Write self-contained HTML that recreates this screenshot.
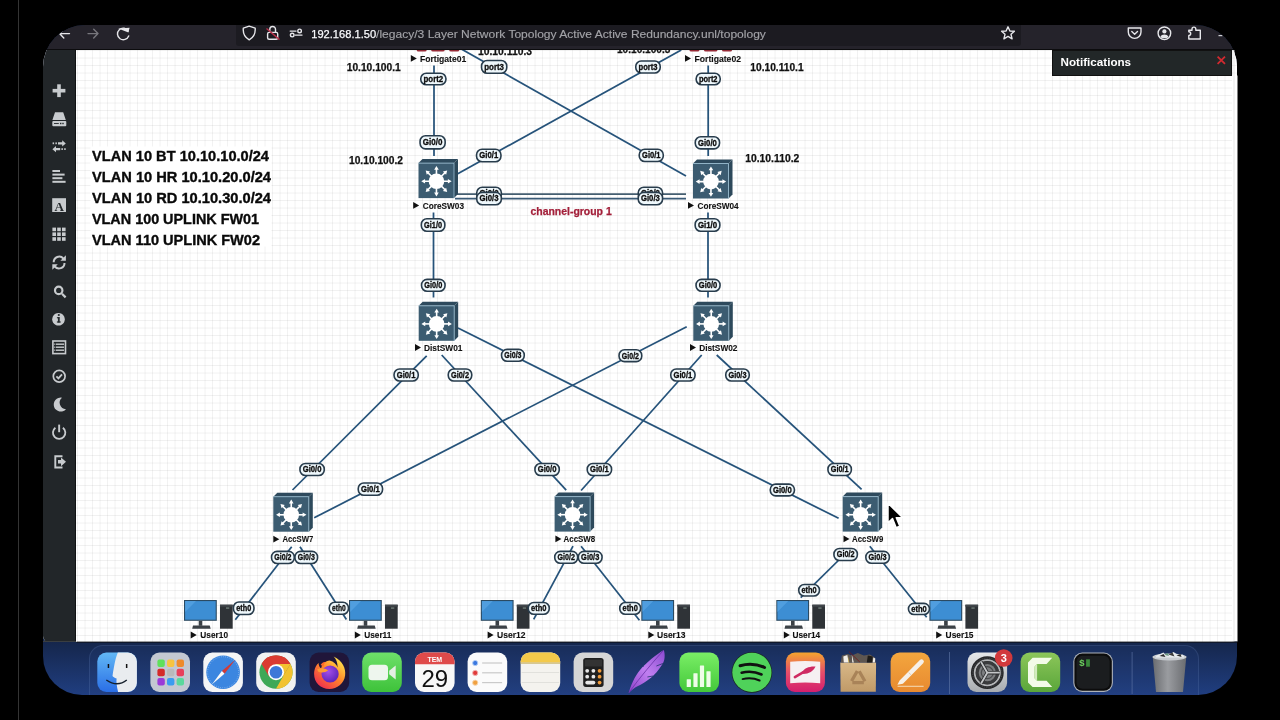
<!DOCTYPE html>
<html><head><meta charset="utf-8"><style>
*{margin:0;padding:0;box-sizing:border-box}
html,body{width:1280px;height:720px;overflow:hidden;background:#000;font-family:"Liberation Sans",sans-serif}
.abs{position:absolute}
#vline{left:18px;top:0;width:1px;height:720px;background:#343434}
#screen{left:43px;top:25px;width:1194px;height:670px;border-radius:42px 42px 39px 39px;overflow:hidden;background:linear-gradient(180deg,#15264b 0%,#15264b 92%,#203e80 100%)}
#toolbar{left:0;top:0;width:1194px;height:25px;background:#25232b;border-bottom:1px solid #0c0c0e}
#url{left:193px;top:0;width:785px;height:20.5px;background:#1c1b21;border-radius:0 0 3px 3px}
#win{left:0;top:25px;width:1194px;height:592px;border-radius:0 0 6px 6px;overflow:hidden;background:#fff}
#sidebar{left:0;top:0;width:33px;height:592px;background:#222629;border-right:1.5px solid #0f1112}
#canvas{left:33px;top:0;width:1161px;height:592px;background-color:#fff;
 background-image:linear-gradient(90deg, rgba(0,0,0,0.055) 1px, transparent 1px),linear-gradient(0deg, rgba(0,0,0,0.055) 1px, transparent 1px);
 background-size:7.5px 7.5px;background-position:1.10px 1.00px}
#vlan{left:48px;top:94px;width:182px;height:112px;background:#fff}
#notif{left:1009px;top:0;width:180px;height:26px;background:#222728;border:1px solid #111}
#dock{left:46px;top:619.5px;width:1110px;height:70px;border-radius:14px;background:rgba(40,70,130,0.22);border:1px solid rgba(120,150,200,0.18)}
.ic{position:absolute;top:627.5px;width:40px;height:40px;border-radius:9px;overflow:hidden}
</style></head><body>
<div id="vline" class="abs"></div>
<div id="screen" class="abs">
 <div id="toolbar" class="abs"><div id="url" class="abs"></div></div>
 <div id="win" class="abs">
  <div id="sidebar" class="abs"></div>
  <div id="canvas" class="abs"></div>
  <div id="notif" class="abs"></div>
 </div>
 <div id="dock" class="abs"></div>
</div>
<svg class="abs" style="left:0;top:0;will-change:transform" width="1280" height="720" viewBox="0 0 1280 720" font-family="Liberation Sans, sans-serif">
 <defs><clipPath id="scr"><rect x="43" y="25" width="1194" height="670" rx="42"/></clipPath><clipPath id="cv"><rect x="76.5" y="50" width="1161" height="592"/></clipPath></defs>
 
<g fill="#c8cbce" stroke="none">
 <rect x="52.6" y="88.9" width="12.8" height="3.6"/>
 <rect x="57.2" y="84.3" width="3.6" height="12.8"/>
 <path d="M55 112.3 L63.2 112.3 L65.8 120 L52.4 120Z"/>
 <rect x="52.3" y="121" width="14" height="5.2" rx="1"/>
 <rect x="60" y="122.8" width="1.4" height="1.4" fill="#23282b"/><rect x="62.3" y="122.8" width="1.4" height="1.4" fill="#23282b"/><rect x="54" y="123.1" width="4.8" height="0.9" fill="#23282b"/>
 <path d="M58 142.3 h4.2 v-2 l3.6 3.1 l-3.6 3.1 v-2 h-4.2z"/><rect x="52.6" y="142.4" width="1.5" height="1.8"/><rect x="55.4" y="142.4" width="1.5" height="1.8"/>
 <path d="M60.2 148.1 h-4.2 v-2 l-3.6 3.1 l3.6 3.1 v-2 h4.2z"/><rect x="64.2" y="148.2" width="1.5" height="1.8"/><rect x="61.4" y="148.2" width="1.5" height="1.8"/>
 <rect x="52.4" y="170" width="7.6" height="2"/><rect x="52.4" y="173.6" width="12.2" height="2"/><rect x="52.4" y="177.2" width="10" height="2"/><rect x="52.4" y="180.8" width="13.2" height="2"/>
 <rect x="52.2" y="198.2" width="13.8" height="13.8"/>
 <g fill="#c8cbce">
 <rect x="52.4" y="227.6" width="3.6" height="3.6"/><rect x="57.2" y="227.6" width="3.6" height="3.6"/><rect x="62" y="227.6" width="3.6" height="3.6"/>
 <rect x="52.4" y="232.4" width="3.6" height="3.6"/><rect x="57.2" y="232.4" width="3.6" height="3.6"/><rect x="62" y="232.4" width="3.6" height="3.6"/>
 <rect x="52.4" y="237.2" width="3.6" height="3.6"/><rect x="57.2" y="237.2" width="3.6" height="3.6"/><rect x="62" y="237.2" width="3.6" height="3.6"/>
 </g>
 <path d="M58.5 313 a6.3 6.3 0 1 0 0.01 0z"/>
 <path d="M58.7 290.4 m-4.8 0 a4.8 4.8 0 1 0 9.6 0 a4.8 4.8 0 1 0 -9.6 0z"/>
 <path d="M62 397.7 A7 7 0 1 0 66 409.2 A6.5 6.5 0 0 1 62 397.7Z"/>
</g>
<text x="59.1" y="210.6" text-anchor="middle" font-family="Liberation Serif" font-weight="700" font-size="13" fill="#23282b">A</text>
<g fill="none" stroke="#c8cbce">
 <path d="M53.7 262.3 A5.5 5.5 0 0 1 63.4 258.6" stroke-width="2"/><path d="M64.5 262.9 A5.5 5.5 0 0 1 54.8 266.5" stroke-width="2"/>
 <path d="M65.9 255.2 L65.9 260.8 L60.4 260.8Z" fill="#c8cbce" stroke="none"/><path d="M52.3 269.8 L52.3 264.3 L57.8 264.3Z" fill="#c8cbce" stroke="none"/>
 <line x1="62" y1="293.8" x2="65.6" y2="297.4" stroke-width="2.2"/>
 <rect x="52.9" y="341" width="12.6" height="12.6" stroke-width="1.6"/>
 <circle cx="59.2" cy="376.2" r="5.9" stroke-width="1.7"/>
 <path d="M55.6 435.5 A5.5 5.5 0 1 0 62.4 427.1" stroke-width="0" />
 <path d="M55.4 427.8 A6.2 6.2 0 1 0 62.9 427.8" stroke-width="1.8"/>
 <path d="M62.5 456.2 h-7.2 v11.3 h7.2" stroke-width="1.9"/>
</g>
<g fill="#c8cbce">
 <rect x="58.2" y="424.6" width="1.9" height="7.6"/>
 <path d="M58 460 h3 v-2.6 l5 4.4 l-5 4.4 v-2.6 h-3z"/>
 <rect x="56" y="343.5" width="8" height="1.4"/><rect x="56" y="346.5" width="8" height="1.4"/><rect x="56" y="349.5" width="8" height="1.4"/>
 <rect x="54.3" y="343.5" width="1" height="1.4"/><rect x="54.3" y="346.5" width="1" height="1.4"/><rect x="54.3" y="349.5" width="1" height="1.4"/>
</g>
<g fill="#23282b"><rect x="57.9" y="317.2" width="1.8" height="5.3"/><circle cx="58.8" cy="315" r="1.1"/><rect x="56.9" y="321.4" width="3.8" height="1.2"/><rect x="56.9" y="317.2" width="2.6" height="1.1"/>
<circle cx="58.7" cy="290.4" r="2.6" fill="#23282b"/></g>
<path d="M56.4 376.4 L58.4 378.4 L62 374.4" fill="none" stroke="#c8cbce" stroke-width="1.8"/>

 <g clip-path="url(#scr)">
<g fill="none" stroke="#e6e6ea" stroke-width="1.4" stroke-linecap="round" stroke-linejoin="round">
 <path d="M69.5 33.6 H59.5 M63.8 29.3 L59.5 33.6 L63.8 37.9"/>
 <path d="M88 33.6 H98 M93.7 29.3 L98 33.6 L93.7 37.9" stroke="#77767c"/>
 <path d="M128.3 31 A5.8 5.8 0 1 0 128.7 36"/>
 <path d="M243.3 28.2 L249.2 26.2 L255.2 28.2 C255.6 33.8 253.3 37.5 249.2 39.8 C245.1 37.5 242.8 33.8 243.3 28.2Z"/>
 <path d="M269.8 32.3 V29.3 A2.85 2.85 0 0 1 275.5 29.3 V32.3"/>
 <rect x="267.6" y="32.4" width="10.1" height="6.8" rx="1.5"/>
 <path d="M290.2 31.1 H296 M295.2 35.1 H302"/>
 <circle cx="299.6" cy="30.9" r="1.8"/><circle cx="292.2" cy="35.1" r="1.8"/>
 <path d="M1008 26.8 L1009.9 31 L1014.4 31.3 L1011 34.3 L1012.1 38.8 L1008 36.4 L1003.9 38.8 L1005 34.3 L1001.6 31.3 L1006.1 31Z"/>
 <path d="M1128.3 28 H1141 V32 A6.35 6.35 0 0 1 1128.3 32Z"/>
 <path d="M1131.8 31.5 L1134.65 34.2 L1137.5 31.5"/>
 <circle cx="1164.4" cy="33.3" r="6.3"/>
 <path d="M1188.8 30.3 H1192 V29 A1.9 1.9 0 0 1 1195.8 29 V30.3 H1200.3 V39 H1188.8 V35.5 A1.9 1.9 0 0 0 1188.8 31.7Z"/>
</g>
<path d="M118.2 28.6 L129.6 27.7 L128.4 32.6Z" fill="#e6e6ea"/>
<path d="M266.5 28.5 L279.5 39.6" stroke="#b8304a" stroke-width="1.4"/>
<circle cx="1164.4" cy="31.4" r="2.1" fill="#e6e6ea"/><path d="M1160.4 36.6 A4.2 3 0 0 1 1168.4 36.6 L1167 38.2 H1161.8Z" fill="#e6e6ea"/>
<rect x="1218.5" y="35" width="4" height="1.2" fill="#cfcfd4"/>
</g>
 <g transform="translate(97.30,652.50)"><defs><linearGradient id="fdb" x1="0" y1="0" x2="0" y2="1"><stop offset="0" stop-color="#62b8f5"/><stop offset="1" stop-color="#2a6ee6"/></linearGradient></defs>
<rect width="39.6" height="39.4" rx="9" fill="url(#fdb)"/>
<path d="M20.5 0 H30.6 A9 9 0 0 1 39.6 9 V30.4 A9 9 0 0 1 30.6 39.4 H20.8 C19.5 34 18.8 29 19.3 26 C17 25.5 16 24.5 15.2 23.6 C16.5 15 18 6 20.5 0Z" fill="#e9ecef"/>
<rect x="10.4" y="11.5" width="1.5" height="4" fill="#111"/><rect x="28.6" y="11.5" width="1.5" height="4" fill="#111"/>
<path d="M9 27.5 Q20 35 29.5 27.5" stroke="#15202b" stroke-width="1.3" fill="none"/></g><g transform="translate(150.40,652.50)"><rect width="39.6" height="39.4" rx="9" fill="#c3c8d2"/><rect x="7.0" y="7.0" width="7.4" height="7.4" rx="2" fill="#5fe05a"/><rect x="16.6" y="7.0" width="7.4" height="7.4" rx="2" fill="#f6c440"/><rect x="26.2" y="7.0" width="7.4" height="7.4" rx="2" fill="#ee8a2c"/><rect x="7.0" y="16.3" width="7.4" height="7.4" rx="2" fill="#d42a2a"/><rect x="16.6" y="16.3" width="7.4" height="7.4" rx="2" fill="#b9b9bb"/><rect x="26.2" y="16.3" width="7.4" height="7.4" rx="2" fill="#e8405c"/><rect x="7.0" y="25.6" width="7.4" height="7.4" rx="2" fill="#9a3ad8"/><rect x="16.6" y="25.6" width="7.4" height="7.4" rx="2" fill="#3a9cf0"/><rect x="26.2" y="25.6" width="7.4" height="7.4" rx="2" fill="#5ad89c"/></g><g transform="translate(203.30,652.50)"><rect width="39.6" height="39.4" rx="9" fill="#f4f5f6"/>
<circle cx="19.8" cy="19.7" r="16.8" fill="#3b86e0"/><circle cx="19.8" cy="19.7" r="15.5" fill="none" stroke="#cfe3f8" stroke-width="0.7" stroke-dasharray="0.6 1.6"/>
<path d="M32 7.3 L21.2 21.2 L18.6 18.4Z" fill="#d23a36"/><path d="M8.5 32 L18.6 18.4 L21.2 21.2Z" fill="#fafafa"/></g><g transform="translate(256.20,652.50)"><rect width="39.6" height="39.4" rx="9" fill="#f1f2f2"/>
<circle cx="19.8" cy="19.7" r="16.6" fill="#3ea857"/>
<path d="M19.8 3.1 A16.6 16.6 0 0 1 34.2 11.4 L19.8 11.4 Z M5.4 11.4 A16.6 16.6 0 0 1 19.8 3.1 L19.8 11.4Z" fill="#da3b31"/>
<path d="M19.8 3.1 A16.6 16.6 0 0 1 34.2 11.4 L26.9 23.8 L19.8 11.4Z" fill="#da3b31"/>
<path d="M5.4 11.4 L12.7 23.8 L19.8 11.4 L19.8 3.1 A16.6 16.6 0 0 0 5.4 11.4Z" fill="#da3b31"/>
<path d="M34.2 11.4 A16.6 16.6 0 0 1 19.8 36.3 L26.9 23.8Z" fill="#f2c230"/>
<path d="M34.2 11.4 L19.8 11.4 L26.9 23.8Z" fill="#f2c230"/>
<circle cx="19.8" cy="19.7" r="8" fill="#fff"/><circle cx="19.8" cy="19.7" r="6.3" fill="#3c78d8"/></g><g transform="translate(309.60,652.50)"><rect width="39.6" height="39.4" rx="9" fill="#20163a"/>
<defs><linearGradient id="ffo" x1="0.85" y1="0.1" x2="0.2" y2="0.95"><stop offset="0" stop-color="#ffe04a"/><stop offset="0.45" stop-color="#ff8a2a"/><stop offset="1" stop-color="#f0304e"/></linearGradient>
<radialGradient id="ffp" cx="0.4" cy="0.35" r="0.7"><stop offset="0" stop-color="#a44ee8"/><stop offset="1" stop-color="#5a22b8"/></radialGradient></defs>
<path d="M24 4 C33 8 36.5 16 35.5 23 C34.5 31 27.5 36.5 19.8 36.5 C11 36.5 4.5 30 4.5 21.5 C4.5 16 7 12 9 10.5 C9 13 10 15 11.5 16 C12.5 11 16 8.5 20 8 C24 9 27 12 28 15 C28 10 26.5 6.5 24 4Z" fill="url(#ffo)"/>
<circle cx="20.5" cy="21.5" r="8.6" fill="url(#ffp)"/>
<path d="M7.5 17 C11 15 15.5 15.5 18.5 18 C16 20 12.5 20.5 9 19.5Z" fill="#ff9a34"/>
<path d="M11 12.5 C12.5 10 14 9.5 16 9.5 C14.5 11 14 12.5 14 14Z" fill="#ff6a2a"/></g><g transform="translate(362.20,652.50)"><defs><linearGradient id="ftg" x1="0" y1="0" x2="0" y2="1"><stop offset="0" stop-color="#6ee06a"/><stop offset="1" stop-color="#3ec23a"/></linearGradient></defs>
<rect width="39.6" height="39.4" rx="9" fill="url(#ftg)"/>
<rect x="6.3" y="12.3" width="19.5" height="15.5" rx="3.5" fill="#eef6ee"/><path d="M27 18.2 L33.5 13 V27 L27 21.8Z" fill="#e4efe4"/></g><g transform="translate(415.00,652.50)"><rect width="39.6" height="39.4" rx="9" fill="#f8f8f8"/>
<path d="M0 11.8 V9 A9 9 0 0 1 9 0 H30.6 A9 9 0 0 1 39.6 9 V11.8Z" fill="#df4a4a"/>
<text x="19.8" y="9" text-anchor="middle" font-size="7" font-weight="700" fill="#fff">TEM</text>
<text x="19.8" y="34.3" text-anchor="middle" font-size="24" fill="#111">29</text></g><g transform="translate(467.60,652.50)"><rect width="39.6" height="39.4" rx="9" fill="#fbfbfb"/>
<circle cx="7.6" cy="10.5" r="2.6" fill="#3a78e0" stroke="#b8d0f4" stroke-width="0.9"/><circle cx="7.6" cy="20.4" r="2.6" fill="#e03a3a" stroke="#f2b8b8" stroke-width="0.9"/><circle cx="7.6" cy="30.2" r="2.6" fill="#f0a040" stroke="#f6d6b0" stroke-width="0.9"/>
<rect x="14.5" y="10.2" width="20" height="0.6" fill="#9a9a9a"/><rect x="14.5" y="20.1" width="20" height="0.6" fill="#9a9a9a"/><rect x="14.5" y="30" width="20" height="0.6" fill="#9a9a9a"/></g><g transform="translate(520.60,652.50)"><rect width="39.6" height="39.4" rx="9" fill="#f4f3ee"/>
<path d="M0 10 V9 A9 9 0 0 1 9 0 H30.6 A9 9 0 0 1 39.6 9 V10Z" fill="#f3c94a"/><rect y="10" width="39.6" height="1.2" fill="#c9b46a"/>
<rect x="1" y="19.8" width="37.6" height="0.5" fill="#cfcfcb"/><rect x="1" y="29.6" width="37.6" height="0.5" fill="#cfcfcb"/></g><g transform="translate(573.60,652.50)"><rect width="39.6" height="39.4" rx="9" fill="#d6d6d6"/>
<rect x="9.6" y="5.4" width="20.4" height="29" rx="2.6" fill="#1f1f1f"/>
<rect x="11.2" y="7" width="17.2" height="7" fill="#333"/>
<circle cx="13.6" cy="18.3" r="1.9" fill="#e8e8e8"/><circle cx="19.8" cy="18.3" r="1.9" fill="#e8e8e8"/><circle cx="26" cy="18.3" r="1.9" fill="#f09a3a"/>
<circle cx="13.6" cy="24.2" r="1.9" fill="#e8e8e8"/><circle cx="19.8" cy="24.2" r="1.9" fill="#e8e8e8"/><circle cx="26" cy="24.2" r="1.9" fill="#f09a3a"/>
<rect x="11.7" y="28.2" width="10" height="3.8" rx="1.9" fill="#e8e8e8"/><circle cx="26" cy="30.1" r="1.9" fill="#f09a3a"/></g><g transform="translate(626.40,652.50)"><defs><linearGradient id="fth" x1="1" y1="0" x2="0" y2="1"><stop offset="0" stop-color="#8a4ad0"/><stop offset="0.5" stop-color="#c07ff0"/><stop offset="1" stop-color="#8a40c8"/></linearGradient></defs>
<path d="M2.35 40.5 C4 34 8 24 14 17 C20 10 30 2 37.35 -2.5 C39 2 38.5 9 35.5 12.5 C32 18 28.5 22 24.85 25 C20 29 15 32 11.1 33.75 C8 35.5 5 37.5 2.35 40.5Z" fill="url(#fth)"/>
<path d="M37 -2 C28 8 14 24 2.35 40.5" stroke="#6a32a8" stroke-width="0.8" fill="none"/>
<path d="M36.5 11 L30 13.5 M26.5 23.5 L21 24.5 M14.5 10.5 L17 14.5" stroke="#1d3468" stroke-width="0.8"/></g><g transform="translate(679.40,652.50)"><defs><linearGradient id="nug" x1="0" y1="0" x2="0" y2="1"><stop offset="0" stop-color="#7aee66"/><stop offset="1" stop-color="#44c83a"/></linearGradient></defs>
<rect width="39.6" height="39.4" rx="9" fill="url(#nug)"/>
<rect x="7.3" y="26.7" width="4.2" height="7.8" rx="0.5" fill="#eefde8"/><rect x="14" y="20.8" width="4.2" height="13.7" rx="0.5" fill="#eefde8"/><rect x="20.5" y="13" width="4.2" height="21.5" rx="0.5" fill="#eefde8"/><rect x="27" y="18.7" width="4.2" height="15.8" rx="0.5" fill="#eefde8"/></g><g transform="translate(731.60,652.50)"><circle cx="20.3" cy="19.9" r="20.3" fill="#1a2a20"/><circle cx="20.3" cy="19.9" r="19.6" fill="#4fd25a"/>
<path d="M8.5 13.2 Q21 9.5 33 15" stroke="#111" stroke-width="3" stroke-linecap="round" fill="none"/>
<path d="M10 20.2 Q20.5 17.5 30 22" stroke="#111" stroke-width="2.5" stroke-linecap="round" fill="none"/>
<path d="M11 26.6 Q20 24.5 28 28" stroke="#111" stroke-width="2" stroke-linecap="round" fill="none"/></g><g transform="translate(785.90,652.50)"><defs><linearGradient id="klg" x1="0" y1="0" x2="0" y2="1"><stop offset="0" stop-color="#f4a42e"/><stop offset="0.5" stop-color="#e64e6a"/><stop offset="1" stop-color="#d41f6e"/></linearGradient></defs>
<rect width="39" height="39.4" rx="9" fill="url(#klg)"/>
<path d="M4.3 9.2 Q19.3 7.8 34.3 9.2 L34.3 30.8 Q19.3 29.3 4.3 30.8Z" fill="#f6f0f2"/>
<path d="M9 24.6 L17.5 19.6" stroke="#cf2a62" stroke-width="2.6" stroke-linecap="round"/><path d="M16 20 C18 15.5 24 13.5 29.6 14 C28 18.5 22.5 21.5 17.5 21.5Z" fill="#cf2a62"/></g><g transform="translate(839.80,652.50)"><defs><linearGradient id="bag" x1="0" y1="0" x2="0" y2="1"><stop offset="0" stop-color="#d8b888"/><stop offset="1" stop-color="#c09a68"/></linearGradient></defs>
<path d="M0.5 10 L36.3 10 L36 39.2 L0.8 39.2Z" fill="url(#bag)"/>
<path d="M2 3 L8 1.5 L12 3 L18 0.5 L24 3 L30 2 L35 5 L36 10 L1 10Z" fill="#5e5650"/>
<path d="M3.5 4 L7.5 2.5 L9 10 L4 10Z" fill="#f2eee8"/><path d="M8 3 L9.5 10 L8.8 10Z" fill="#e8c43a"/><path d="M12 2 L14 10 L12.5 10Z" fill="#f4f0ea"/><path d="M28 3 L33 4 L32 10 L27 10Z" fill="#1e1c1a"/><path d="M33.5 5 L35.5 6 L35 10 L33 10Z" fill="#f2eee8"/>
<path d="M9 -1 L20 9.5" stroke="#7a1a1a" stroke-width="0.8"/>
<path d="M18.4 17 L26 30.2 L10.8 30.2Z" fill="none" stroke="#a98358" stroke-width="3.3" stroke-linejoin="round" stroke-dasharray="11.5 3.7" stroke-dashoffset="-2"/></g><g transform="translate(890.60,652.50)"><defs><linearGradient id="pgg" x1="0" y1="0" x2="0" y2="1"><stop offset="0" stop-color="#f3a63e"/><stop offset="1" stop-color="#e88a30"/></linearGradient></defs>
<rect width="39.6" height="39.4" rx="9" fill="url(#pgg)"/>
<path d="M6.8 32.2 L9 28 L29.3 7.6 A2 2 0 0 1 32.6 10.8 L12.3 31.3Z" fill="#f6f0e8"/><path d="M18 20 L20.5 22.4" stroke="#c8b8a0" stroke-width="0.6"/><rect x="7" y="33.3" width="26" height="0.9" fill="#f6e6c8"/></g><g transform="translate(967.50,652.50)"><defs><linearGradient id="ssg" x1="0" y1="0" x2="0" y2="1"><stop offset="0" stop-color="#e6e8ea"/><stop offset="1" stop-color="#a8acb0"/></linearGradient></defs>
<rect width="39.6" height="39.4" rx="9" fill="url(#ssg)"/>
<circle cx="19.8" cy="20.2" r="16.4" fill="#262729"/>
<circle cx="19.8" cy="20.2" r="14.6" fill="none" stroke="#55575a" stroke-width="0.9" stroke-dasharray="0.8 1"/>
<circle cx="19.8" cy="20.2" r="12.6" fill="none" stroke="#b4b6b8" stroke-width="1.8"/>
<circle cx="19.8" cy="20.2" r="11.5" fill="#3a3b3d"/>
<circle cx="19.8" cy="20.2" r="8.6" fill="#7c7e80"/>
<circle cx="19.8" cy="20.2" r="6" fill="none" stroke="#4a4b4d" stroke-width="1.2"/>
<path d="M19.8 20.2 L32.3 20.2 M19.8 20.2 L13.55 31 M19.8 20.2 L13.55 9.4" stroke="#2a2b2d" stroke-width="3.4"/>
<path d="M19.8 20.2 L32.3 20.2 M19.8 20.2 L13.55 31 M19.8 20.2 L13.55 9.4" stroke="#c4c6c8" stroke-width="1.8"/></g><circle cx="1003.7" cy="658" r="8.8" fill="#d2393c"/><text x="1003.7" y="662" text-anchor="middle" font-size="11" font-weight="700" fill="#fff">3</text><g transform="translate(1020.60,652.50)"><defs><linearGradient id="ctg" x1="0" y1="0" x2="0" y2="1"><stop offset="0" stop-color="#8cc65a"/><stop offset="1" stop-color="#5aa63a"/></linearGradient></defs>
<rect width="39.6" height="39.4" rx="9" fill="url(#ctg)"/>
<path d="M12 5.3 H31.6 L26 11.5 H16.5 L14 14 V25.8 L16.5 28.3 H26 L31.6 34.5 H12 L7.4 29.9 V9.9Z" fill="#f3fbe8"/><path d="M14 14 V25.8 L16.5 28.3 V11.5Z" fill="#d2ecbc"/></g><g transform="translate(1073.30,652.50)"><rect width="39.6" height="39.4" rx="9" fill="#aeb2b8"/><rect x="1.1" y="1.1" width="37.4" height="37.2" rx="8" fill="#0c0c0c"/><rect x="3.2" y="3.2" width="33.2" height="33" rx="6" fill="#1b1d1f"/>
<text x="5.8" y="13.8" font-size="9.5" font-weight="700" font-family="Liberation Mono" fill="#6ccf5e">$</text><rect x="12.8" y="6.8" width="3.8" height="7.4" fill="#3a8a3a"/></g><g transform="translate(1151.50,652.50)"><defs><linearGradient id="trg" x1="0" y1="0" x2="1" y2="0"><stop offset="0" stop-color="#6a6c70"/><stop offset="0.45" stop-color="#9a9ca0"/><stop offset="1" stop-color="#6a6c70"/></linearGradient></defs>
<path d="M1.2 4 L34.8 4 L31.5 39.4 L4.5 39.4Z" fill="url(#trg)"/><ellipse cx="18" cy="4.5" rx="17" ry="3.5" fill="#c8ccd0"/>
<path d="M5 3 L12 0 L15 4 L22 -0.5 L28 3.5 L31 2 L33 5 L4 5Z" fill="#e8ecef"/><path d="M8 3.5 L12 1.5 L14 4.5Z" fill="#2a2a2a"/><path d="M17 2 L21 0 L23 4Z" fill="#3a3a3a"/><path d="M25 3 L29 1.5 L30 4.5Z" fill="#2a2a2a"/><path d="M13 2 L16 0.5 L17.5 3.5Z" fill="#6a9a80"/></g><rect x="949" y="652" width="1" height="42" fill="#6078a8" opacity="0.6"/><rect x="1131.6" y="652" width="1" height="42" fill="#6078a8" opacity="0.6"/>
 <rect x="90.5" y="146.5" width="181" height="100" fill="#fff"/>
 <rect x="1232" y="75.5" width="5.5" height="566" fill="#fff"/><rect x="1233.6" y="50" width="0.8" height="592" fill="#e2e2e2"/>
 <rect x="43" y="641" width="33" height="1" fill="#3a3e41"/><rect x="76.5" y="641.6" width="1161" height="1" fill="#101216"/>
 <g clip-path="url(#cv)"><line x1="434.00" y1="65.50" x2="434.00" y2="156.00" stroke="#26537a" stroke-width="1.75"/><line x1="708.20" y1="65.50" x2="708.20" y2="156.00" stroke="#26537a" stroke-width="1.75"/><line x1="456.00" y1="46.00" x2="686.00" y2="176.00" stroke="#26537a" stroke-width="1.75"/><line x1="681.25" y1="50.00" x2="457.75" y2="173.75" stroke="#26537a" stroke-width="1.75"/><line x1="455.00" y1="194.10" x2="686.00" y2="194.10" stroke="#445e70" stroke-width="1.7"/><line x1="455.00" y1="198.70" x2="686.00" y2="198.70" stroke="#3a5a76" stroke-width="1.7"/><line x1="433.50" y1="212.50" x2="433.50" y2="297.50" stroke="#26537a" stroke-width="1.75"/><line x1="708.00" y1="212.50" x2="708.00" y2="297.50" stroke="#26537a" stroke-width="1.75"/><line x1="458.00" y1="328.00" x2="838.60" y2="518.30" stroke="#26537a" stroke-width="1.75"/><line x1="686.70" y1="326.70" x2="314.20" y2="517.80" stroke="#26537a" stroke-width="1.75"/><line x1="426.70" y1="355.80" x2="292.50" y2="490.00" stroke="#26537a" stroke-width="1.75"/><line x1="441.70" y1="355.00" x2="566.20" y2="490.20" stroke="#26537a" stroke-width="1.75"/><line x1="701.70" y1="355.00" x2="581.10" y2="490.50" stroke="#26537a" stroke-width="1.75"/><line x1="716.70" y1="355.00" x2="861.60" y2="489.30" stroke="#26537a" stroke-width="1.75"/><line x1="291.70" y1="546.70" x2="235.30" y2="619.80" stroke="#26537a" stroke-width="1.75"/><line x1="300.00" y1="546.70" x2="346.40" y2="619.50" stroke="#26537a" stroke-width="1.75"/><line x1="573.00" y1="546.20" x2="533.70" y2="619.30" stroke="#26537a" stroke-width="1.75"/><line x1="581.10" y1="546.20" x2="639.40" y2="620.30" stroke="#26537a" stroke-width="1.75"/><line x1="850.00" y1="549.00" x2="800.70" y2="597.70" stroke="#26537a" stroke-width="1.75"/><line x1="869.80" y1="546.20" x2="926.70" y2="617.30" stroke="#26537a" stroke-width="1.75"/><rect x="416.6" y="40" width="10.1" height="11.6" rx="1.8" fill="#962a36"/><rect x="431.1" y="40" width="13.6" height="11.6" rx="1.8" fill="#962a36"/><rect x="449.2" y="40" width="10.1" height="11.6" rx="1.8" fill="#962a36"/><rect x="689.4" y="40" width="10.1" height="11.6" rx="1.8" fill="#962a36"/><rect x="703.9" y="40" width="13.6" height="11.6" rx="1.8" fill="#962a36"/><rect x="722.0" y="40" width="10.1" height="11.6" rx="1.8" fill="#962a36"/><path d="M418.50 163.10 L422.50 159.10 L458.00 159.10 L454.00 163.10Z" fill="#2e4a5d"/><path d="M454.00 163.10 L458.00 159.10 L458.00 194.10 L454.00 198.10Z" fill="#2d495b"/><rect x="418.50" y="163.10" width="35.50" height="35.00" fill="#3c5c71"/><path d="M418.50 163.10 L454.00 163.10 L454.00 198.10" fill="none" stroke="#9cc0d4" stroke-width="0.8"/><circle cx="436.45" cy="181.20" r="7.8" fill="#fff"/><line x1="443.45" y1="181.20" x2="448.95" y2="181.20" stroke="#fff" stroke-width="1.6"/><path d="M451.65 181.20 L447.85 183.50 L447.85 178.90Z" fill="#fff"/><line x1="441.40" y1="186.15" x2="445.29" y2="190.04" stroke="#fff" stroke-width="1.6"/><path d="M447.20 191.95 L442.88 190.89 L446.14 187.63Z" fill="#fff"/><line x1="436.45" y1="188.20" x2="436.45" y2="193.70" stroke="#fff" stroke-width="1.6"/><path d="M436.45 196.40 L434.15 192.60 L438.75 192.60Z" fill="#fff"/><line x1="431.50" y1="186.15" x2="427.61" y2="190.04" stroke="#fff" stroke-width="1.6"/><path d="M425.70 191.95 L426.76 187.63 L430.02 190.89Z" fill="#fff"/><line x1="429.45" y1="181.20" x2="423.95" y2="181.20" stroke="#fff" stroke-width="1.6"/><path d="M421.25 181.20 L425.05 178.90 L425.05 183.50Z" fill="#fff"/><line x1="431.50" y1="176.25" x2="427.61" y2="172.36" stroke="#fff" stroke-width="1.6"/><path d="M425.70 170.45 L430.02 171.51 L426.76 174.77Z" fill="#fff"/><line x1="436.45" y1="174.20" x2="436.45" y2="168.70" stroke="#fff" stroke-width="1.6"/><path d="M436.45 166.00 L438.75 169.80 L434.15 169.80Z" fill="#fff"/><line x1="441.40" y1="176.25" x2="445.29" y2="172.36" stroke="#fff" stroke-width="1.6"/><path d="M447.20 170.45 L446.14 174.77 L442.88 171.51Z" fill="#fff"/><path d="M693.00 163.50 L697.00 159.50 L732.50 159.50 L728.50 163.50Z" fill="#2e4a5d"/><path d="M728.50 163.50 L732.50 159.50 L732.50 194.50 L728.50 198.50Z" fill="#2d495b"/><rect x="693.00" y="163.50" width="35.50" height="35.00" fill="#3c5c71"/><path d="M693.00 163.50 L728.50 163.50 L728.50 198.50" fill="none" stroke="#9cc0d4" stroke-width="0.8"/><circle cx="710.95" cy="181.60" r="7.8" fill="#fff"/><line x1="717.95" y1="181.60" x2="723.45" y2="181.60" stroke="#fff" stroke-width="1.6"/><path d="M726.15 181.60 L722.35 183.90 L722.35 179.30Z" fill="#fff"/><line x1="715.90" y1="186.55" x2="719.79" y2="190.44" stroke="#fff" stroke-width="1.6"/><path d="M721.70 192.35 L717.38 191.29 L720.64 188.03Z" fill="#fff"/><line x1="710.95" y1="188.60" x2="710.95" y2="194.10" stroke="#fff" stroke-width="1.6"/><path d="M710.95 196.80 L708.65 193.00 L713.25 193.00Z" fill="#fff"/><line x1="706.00" y1="186.55" x2="702.11" y2="190.44" stroke="#fff" stroke-width="1.6"/><path d="M700.20 192.35 L701.26 188.03 L704.52 191.29Z" fill="#fff"/><line x1="703.95" y1="181.60" x2="698.45" y2="181.60" stroke="#fff" stroke-width="1.6"/><path d="M695.75 181.60 L699.55 179.30 L699.55 183.90Z" fill="#fff"/><line x1="706.00" y1="176.65" x2="702.11" y2="172.76" stroke="#fff" stroke-width="1.6"/><path d="M700.20 170.85 L704.52 171.91 L701.26 175.17Z" fill="#fff"/><line x1="710.95" y1="174.60" x2="710.95" y2="169.10" stroke="#fff" stroke-width="1.6"/><path d="M710.95 166.40 L713.25 170.20 L708.65 170.20Z" fill="#fff"/><line x1="715.90" y1="176.65" x2="719.79" y2="172.76" stroke="#fff" stroke-width="1.6"/><path d="M721.70 170.85 L720.64 175.17 L717.38 171.91Z" fill="#fff"/><path d="M418.70 305.80 L422.70 301.80 L458.20 301.80 L454.20 305.80Z" fill="#2e4a5d"/><path d="M454.20 305.80 L458.20 301.80 L458.20 336.80 L454.20 340.80Z" fill="#2d495b"/><rect x="418.70" y="305.80" width="35.50" height="35.00" fill="#3c5c71"/><path d="M418.70 305.80 L454.20 305.80 L454.20 340.80" fill="none" stroke="#9cc0d4" stroke-width="0.8"/><circle cx="436.65" cy="323.90" r="7.8" fill="#fff"/><line x1="443.65" y1="323.90" x2="449.15" y2="323.90" stroke="#fff" stroke-width="1.6"/><path d="M451.85 323.90 L448.05 326.20 L448.05 321.60Z" fill="#fff"/><line x1="441.60" y1="328.85" x2="445.49" y2="332.74" stroke="#fff" stroke-width="1.6"/><path d="M447.40 334.65 L443.08 333.59 L446.34 330.33Z" fill="#fff"/><line x1="436.65" y1="330.90" x2="436.65" y2="336.40" stroke="#fff" stroke-width="1.6"/><path d="M436.65 339.10 L434.35 335.30 L438.95 335.30Z" fill="#fff"/><line x1="431.70" y1="328.85" x2="427.81" y2="332.74" stroke="#fff" stroke-width="1.6"/><path d="M425.90 334.65 L426.96 330.33 L430.22 333.59Z" fill="#fff"/><line x1="429.65" y1="323.90" x2="424.15" y2="323.90" stroke="#fff" stroke-width="1.6"/><path d="M421.45 323.90 L425.25 321.60 L425.25 326.20Z" fill="#fff"/><line x1="431.70" y1="318.95" x2="427.81" y2="315.06" stroke="#fff" stroke-width="1.6"/><path d="M425.90 313.15 L430.22 314.21 L426.96 317.47Z" fill="#fff"/><line x1="436.65" y1="316.90" x2="436.65" y2="311.40" stroke="#fff" stroke-width="1.6"/><path d="M436.65 308.70 L438.95 312.50 L434.35 312.50Z" fill="#fff"/><line x1="441.60" y1="318.95" x2="445.49" y2="315.06" stroke="#fff" stroke-width="1.6"/><path d="M447.40 313.15 L446.34 317.47 L443.08 314.21Z" fill="#fff"/><path d="M693.30 305.80 L697.30 301.80 L732.80 301.80 L728.80 305.80Z" fill="#2e4a5d"/><path d="M728.80 305.80 L732.80 301.80 L732.80 336.80 L728.80 340.80Z" fill="#2d495b"/><rect x="693.30" y="305.80" width="35.50" height="35.00" fill="#3c5c71"/><path d="M693.30 305.80 L728.80 305.80 L728.80 340.80" fill="none" stroke="#9cc0d4" stroke-width="0.8"/><circle cx="711.25" cy="323.90" r="7.8" fill="#fff"/><line x1="718.25" y1="323.90" x2="723.75" y2="323.90" stroke="#fff" stroke-width="1.6"/><path d="M726.45 323.90 L722.65 326.20 L722.65 321.60Z" fill="#fff"/><line x1="716.20" y1="328.85" x2="720.09" y2="332.74" stroke="#fff" stroke-width="1.6"/><path d="M722.00 334.65 L717.68 333.59 L720.94 330.33Z" fill="#fff"/><line x1="711.25" y1="330.90" x2="711.25" y2="336.40" stroke="#fff" stroke-width="1.6"/><path d="M711.25 339.10 L708.95 335.30 L713.55 335.30Z" fill="#fff"/><line x1="706.30" y1="328.85" x2="702.41" y2="332.74" stroke="#fff" stroke-width="1.6"/><path d="M700.50 334.65 L701.56 330.33 L704.82 333.59Z" fill="#fff"/><line x1="704.25" y1="323.90" x2="698.75" y2="323.90" stroke="#fff" stroke-width="1.6"/><path d="M696.05 323.90 L699.85 321.60 L699.85 326.20Z" fill="#fff"/><line x1="706.30" y1="318.95" x2="702.41" y2="315.06" stroke="#fff" stroke-width="1.6"/><path d="M700.50 313.15 L704.82 314.21 L701.56 317.47Z" fill="#fff"/><line x1="711.25" y1="316.90" x2="711.25" y2="311.40" stroke="#fff" stroke-width="1.6"/><path d="M711.25 308.70 L713.55 312.50 L708.95 312.50Z" fill="#fff"/><line x1="716.20" y1="318.95" x2="720.09" y2="315.06" stroke="#fff" stroke-width="1.6"/><path d="M722.00 313.15 L720.94 317.47 L717.68 314.21Z" fill="#fff"/><path d="M273.30 496.70 L277.30 492.70 L312.80 492.70 L308.80 496.70Z" fill="#2e4a5d"/><path d="M308.80 496.70 L312.80 492.70 L312.80 527.70 L308.80 531.70Z" fill="#2d495b"/><rect x="273.30" y="496.70" width="35.50" height="35.00" fill="#3c5c71"/><path d="M273.30 496.70 L308.80 496.70 L308.80 531.70" fill="none" stroke="#9cc0d4" stroke-width="0.8"/><circle cx="291.25" cy="514.80" r="7.8" fill="#fff"/><line x1="298.25" y1="514.80" x2="303.75" y2="514.80" stroke="#fff" stroke-width="1.6"/><path d="M306.45 514.80 L302.65 517.10 L302.65 512.50Z" fill="#fff"/><line x1="296.20" y1="519.75" x2="300.09" y2="523.64" stroke="#fff" stroke-width="1.6"/><path d="M302.00 525.55 L297.68 524.49 L300.94 521.23Z" fill="#fff"/><line x1="291.25" y1="521.80" x2="291.25" y2="527.30" stroke="#fff" stroke-width="1.6"/><path d="M291.25 530.00 L288.95 526.20 L293.55 526.20Z" fill="#fff"/><line x1="286.30" y1="519.75" x2="282.41" y2="523.64" stroke="#fff" stroke-width="1.6"/><path d="M280.50 525.55 L281.56 521.23 L284.82 524.49Z" fill="#fff"/><line x1="284.25" y1="514.80" x2="278.75" y2="514.80" stroke="#fff" stroke-width="1.6"/><path d="M276.05 514.80 L279.85 512.50 L279.85 517.10Z" fill="#fff"/><line x1="286.30" y1="509.85" x2="282.41" y2="505.96" stroke="#fff" stroke-width="1.6"/><path d="M280.50 504.05 L284.82 505.11 L281.56 508.37Z" fill="#fff"/><line x1="291.25" y1="507.80" x2="291.25" y2="502.30" stroke="#fff" stroke-width="1.6"/><path d="M291.25 499.60 L293.55 503.40 L288.95 503.40Z" fill="#fff"/><line x1="296.20" y1="509.85" x2="300.09" y2="505.96" stroke="#fff" stroke-width="1.6"/><path d="M302.00 504.05 L300.94 508.37 L297.68 505.11Z" fill="#fff"/><path d="M554.60 496.60 L558.60 492.60 L594.10 492.60 L590.10 496.60Z" fill="#2e4a5d"/><path d="M590.10 496.60 L594.10 492.60 L594.10 527.60 L590.10 531.60Z" fill="#2d495b"/><rect x="554.60" y="496.60" width="35.50" height="35.00" fill="#3c5c71"/><path d="M554.60 496.60 L590.10 496.60 L590.10 531.60" fill="none" stroke="#9cc0d4" stroke-width="0.8"/><circle cx="572.55" cy="514.70" r="7.8" fill="#fff"/><line x1="579.55" y1="514.70" x2="585.05" y2="514.70" stroke="#fff" stroke-width="1.6"/><path d="M587.75 514.70 L583.95 517.00 L583.95 512.40Z" fill="#fff"/><line x1="577.50" y1="519.65" x2="581.39" y2="523.54" stroke="#fff" stroke-width="1.6"/><path d="M583.30 525.45 L578.98 524.39 L582.24 521.13Z" fill="#fff"/><line x1="572.55" y1="521.70" x2="572.55" y2="527.20" stroke="#fff" stroke-width="1.6"/><path d="M572.55 529.90 L570.25 526.10 L574.85 526.10Z" fill="#fff"/><line x1="567.60" y1="519.65" x2="563.71" y2="523.54" stroke="#fff" stroke-width="1.6"/><path d="M561.80 525.45 L562.86 521.13 L566.12 524.39Z" fill="#fff"/><line x1="565.55" y1="514.70" x2="560.05" y2="514.70" stroke="#fff" stroke-width="1.6"/><path d="M557.35 514.70 L561.15 512.40 L561.15 517.00Z" fill="#fff"/><line x1="567.60" y1="509.75" x2="563.71" y2="505.86" stroke="#fff" stroke-width="1.6"/><path d="M561.80 503.95 L566.12 505.01 L562.86 508.27Z" fill="#fff"/><line x1="572.55" y1="507.70" x2="572.55" y2="502.20" stroke="#fff" stroke-width="1.6"/><path d="M572.55 499.50 L574.85 503.30 L570.25 503.30Z" fill="#fff"/><line x1="577.50" y1="509.75" x2="581.39" y2="505.86" stroke="#fff" stroke-width="1.6"/><path d="M583.30 503.95 L582.24 508.27 L578.98 505.01Z" fill="#fff"/><path d="M842.70 496.60 L846.70 492.60 L882.20 492.60 L878.20 496.60Z" fill="#2e4a5d"/><path d="M878.20 496.60 L882.20 492.60 L882.20 527.60 L878.20 531.60Z" fill="#2d495b"/><rect x="842.70" y="496.60" width="35.50" height="35.00" fill="#3c5c71"/><path d="M842.70 496.60 L878.20 496.60 L878.20 531.60" fill="none" stroke="#9cc0d4" stroke-width="0.8"/><circle cx="860.65" cy="514.70" r="7.8" fill="#fff"/><line x1="867.65" y1="514.70" x2="873.15" y2="514.70" stroke="#fff" stroke-width="1.6"/><path d="M875.85 514.70 L872.05 517.00 L872.05 512.40Z" fill="#fff"/><line x1="865.60" y1="519.65" x2="869.49" y2="523.54" stroke="#fff" stroke-width="1.6"/><path d="M871.40 525.45 L867.08 524.39 L870.34 521.13Z" fill="#fff"/><line x1="860.65" y1="521.70" x2="860.65" y2="527.20" stroke="#fff" stroke-width="1.6"/><path d="M860.65 529.90 L858.35 526.10 L862.95 526.10Z" fill="#fff"/><line x1="855.70" y1="519.65" x2="851.81" y2="523.54" stroke="#fff" stroke-width="1.6"/><path d="M849.90 525.45 L850.96 521.13 L854.22 524.39Z" fill="#fff"/><line x1="853.65" y1="514.70" x2="848.15" y2="514.70" stroke="#fff" stroke-width="1.6"/><path d="M845.45 514.70 L849.25 512.40 L849.25 517.00Z" fill="#fff"/><line x1="855.70" y1="509.75" x2="851.81" y2="505.86" stroke="#fff" stroke-width="1.6"/><path d="M849.90 503.95 L854.22 505.01 L850.96 508.27Z" fill="#fff"/><line x1="860.65" y1="507.70" x2="860.65" y2="502.20" stroke="#fff" stroke-width="1.6"/><path d="M860.65 499.50 L862.95 503.30 L858.35 503.30Z" fill="#fff"/><line x1="865.60" y1="509.75" x2="869.49" y2="505.86" stroke="#fff" stroke-width="1.6"/><path d="M871.40 503.95 L870.34 508.27 L867.08 505.01Z" fill="#fff"/><rect x="184.00" y="600.00" width="32.8" height="20.8" fill="#2b4a62"/><rect x="185.10" y="601.10" width="30.6" height="18.6" fill="#3d8ed3"/><path d="M185.10 601.10 L196.00 601.10 L185.10 612.00Z" fill="#58a5e4" opacity="0.7"/><rect x="198.70" y="620.80" width="3.6" height="5" fill="#3b4146"/><path d="M192.20 628.70 L193.00 625.40 L209.70 625.40 L210.70 628.70Z" fill="#3b4146"/><rect x="220.00" y="604.70" width="12.7" height="24" fill="#2f3337"/><rect x="220.00" y="604.70" width="12.7" height="2" fill="#41464b"/><rect x="226.00" y="607.60" width="3.3" height="0.9" fill="#8fa39a"/><rect x="349.00" y="600.00" width="32.8" height="20.8" fill="#2b4a62"/><rect x="350.10" y="601.10" width="30.6" height="18.6" fill="#3d8ed3"/><path d="M350.10 601.10 L361.00 601.10 L350.10 612.00Z" fill="#58a5e4" opacity="0.7"/><rect x="363.70" y="620.80" width="3.6" height="5" fill="#3b4146"/><path d="M357.20 628.70 L358.00 625.40 L374.70 625.40 L375.70 628.70Z" fill="#3b4146"/><rect x="385.00" y="604.70" width="12.7" height="24" fill="#2f3337"/><rect x="385.00" y="604.70" width="12.7" height="2" fill="#41464b"/><rect x="391.00" y="607.60" width="3.3" height="0.9" fill="#8fa39a"/><rect x="480.80" y="600.00" width="32.8" height="20.8" fill="#2b4a62"/><rect x="481.90" y="601.10" width="30.6" height="18.6" fill="#3d8ed3"/><path d="M481.90 601.10 L492.80 601.10 L481.90 612.00Z" fill="#58a5e4" opacity="0.7"/><rect x="495.50" y="620.80" width="3.6" height="5" fill="#3b4146"/><path d="M489.00 628.70 L489.80 625.40 L506.50 625.40 L507.50 628.70Z" fill="#3b4146"/><rect x="516.80" y="604.70" width="12.7" height="24" fill="#2f3337"/><rect x="516.80" y="604.70" width="12.7" height="2" fill="#41464b"/><rect x="522.80" y="607.60" width="3.3" height="0.9" fill="#8fa39a"/><rect x="641.30" y="600.00" width="32.8" height="20.8" fill="#2b4a62"/><rect x="642.40" y="601.10" width="30.6" height="18.6" fill="#3d8ed3"/><path d="M642.40 601.10 L653.30 601.10 L642.40 612.00Z" fill="#58a5e4" opacity="0.7"/><rect x="656.00" y="620.80" width="3.6" height="5" fill="#3b4146"/><path d="M649.50 628.70 L650.30 625.40 L667.00 625.40 L668.00 628.70Z" fill="#3b4146"/><rect x="677.30" y="604.70" width="12.7" height="24" fill="#2f3337"/><rect x="677.30" y="604.70" width="12.7" height="2" fill="#41464b"/><rect x="683.30" y="607.60" width="3.3" height="0.9" fill="#8fa39a"/><rect x="776.30" y="600.00" width="32.8" height="20.8" fill="#2b4a62"/><rect x="777.40" y="601.10" width="30.6" height="18.6" fill="#3d8ed3"/><path d="M777.40 601.10 L788.30 601.10 L777.40 612.00Z" fill="#58a5e4" opacity="0.7"/><rect x="791.00" y="620.80" width="3.6" height="5" fill="#3b4146"/><path d="M784.50 628.70 L785.30 625.40 L802.00 625.40 L803.00 628.70Z" fill="#3b4146"/><rect x="812.30" y="604.70" width="12.7" height="24" fill="#2f3337"/><rect x="812.30" y="604.70" width="12.7" height="2" fill="#41464b"/><rect x="818.30" y="607.60" width="3.3" height="0.9" fill="#8fa39a"/><rect x="929.40" y="600.00" width="32.8" height="20.8" fill="#2b4a62"/><rect x="930.50" y="601.10" width="30.6" height="18.6" fill="#3d8ed3"/><path d="M930.50 601.10 L941.40 601.10 L930.50 612.00Z" fill="#58a5e4" opacity="0.7"/><rect x="944.10" y="620.80" width="3.6" height="5" fill="#3b4146"/><path d="M937.60 628.70 L938.40 625.40 L955.10 625.40 L956.10 628.70Z" fill="#3b4146"/><rect x="965.40" y="604.70" width="12.7" height="24" fill="#2f3337"/><rect x="965.40" y="604.70" width="12.7" height="2" fill="#41464b"/><rect x="971.40" y="607.60" width="3.3" height="0.9" fill="#8fa39a"/><path d="M410.80 55.00 L416.80 58.40 L410.80 61.80Z" fill="#111"/><text x="420.00" y="61.50" font-size="8.6" font-weight="700" fill="#111" stroke="#111" stroke-width="0.1" textLength="46.2" lengthAdjust="spacingAndGlyphs">Fortigate01</text><path d="M685.00 55.00 L691.00 58.40 L685.00 61.80Z" fill="#111"/><text x="694.50" y="61.50" font-size="8.6" font-weight="700" fill="#111" stroke="#111" stroke-width="0.1" textLength="46.5" lengthAdjust="spacingAndGlyphs">Fortigate02</text><path d="M413.20 202.00 L419.20 205.40 L413.20 208.80Z" fill="#111"/><text x="422.80" y="208.50" font-size="8.6" font-weight="700" fill="#111" stroke="#111" stroke-width="0.1" textLength="41.2" lengthAdjust="spacingAndGlyphs">CoreSW03</text><path d="M688.00 202.00 L694.00 205.40 L688.00 208.80Z" fill="#111"/><text x="697.50" y="208.50" font-size="8.6" font-weight="700" fill="#111" stroke="#111" stroke-width="0.1" textLength="41.2" lengthAdjust="spacingAndGlyphs">CoreSW04</text><path d="M415.00 344.10 L421.00 347.50 L415.00 350.90Z" fill="#111"/><text x="424.00" y="350.60" font-size="8.6" font-weight="700" fill="#111" stroke="#111" stroke-width="0.1" textLength="38.5" lengthAdjust="spacingAndGlyphs">DistSW01</text><path d="M690.00 344.10 L696.00 347.50 L690.00 350.90Z" fill="#111"/><text x="699.20" y="350.60" font-size="8.6" font-weight="700" fill="#111" stroke="#111" stroke-width="0.1" textLength="38.3" lengthAdjust="spacingAndGlyphs">DistSW02</text><path d="M273.30 535.80 L279.30 539.20 L273.30 542.60Z" fill="#111"/><text x="282.50" y="542.30" font-size="8.6" font-weight="700" fill="#111" stroke="#111" stroke-width="0.1" textLength="30.8" lengthAdjust="spacingAndGlyphs">AccSW7</text><path d="M555.40 535.50 L561.40 538.90 L555.40 542.30Z" fill="#111"/><text x="563.50" y="542.00" font-size="8.6" font-weight="700" fill="#111" stroke="#111" stroke-width="0.1" textLength="31.7" lengthAdjust="spacingAndGlyphs">AccSW8</text><path d="M843.50 535.50 L849.50 538.90 L843.50 542.30Z" fill="#111"/><text x="852.10" y="542.00" font-size="8.6" font-weight="700" fill="#111" stroke="#111" stroke-width="0.1" textLength="31.2" lengthAdjust="spacingAndGlyphs">AccSW9</text><path d="M190.70 631.60 L196.70 635.00 L190.70 638.40Z" fill="#111"/><text x="200.30" y="638.10" font-size="8.6" font-weight="700" fill="#111" stroke="#111" stroke-width="0.1" textLength="27.7" lengthAdjust="spacingAndGlyphs">User10</text><path d="M354.80 631.60 L360.80 635.00 L354.80 638.40Z" fill="#111"/><text x="364.20" y="638.10" font-size="8.6" font-weight="700" fill="#111" stroke="#111" stroke-width="0.1" textLength="27.2" lengthAdjust="spacingAndGlyphs">User11</text><path d="M487.60 631.60 L493.60 635.00 L487.60 638.40Z" fill="#111"/><text x="497.00" y="638.10" font-size="8.6" font-weight="700" fill="#111" stroke="#111" stroke-width="0.1" textLength="28.5" lengthAdjust="spacingAndGlyphs">User12</text><path d="M648.30 631.60 L654.30 635.00 L648.30 638.40Z" fill="#111"/><text x="657.00" y="638.10" font-size="8.6" font-weight="700" fill="#111" stroke="#111" stroke-width="0.1" textLength="28.4" lengthAdjust="spacingAndGlyphs">User13</text><path d="M783.80 631.60 L789.80 635.00 L783.80 638.40Z" fill="#111"/><text x="792.50" y="638.10" font-size="8.6" font-weight="700" fill="#111" stroke="#111" stroke-width="0.1" textLength="27.7" lengthAdjust="spacingAndGlyphs">User14</text><path d="M936.20 631.60 L942.20 635.00 L936.20 638.40Z" fill="#111"/><text x="945.60" y="638.10" font-size="8.6" font-weight="700" fill="#111" stroke="#111" stroke-width="0.1" textLength="27.9" lengthAdjust="spacingAndGlyphs">User15</text><text x="346.70" y="71.10" font-size="10.2" font-weight="700" fill="#111" stroke="#111" stroke-width="0.25" textLength="54.1" lengthAdjust="spacingAndGlyphs">10.10.100.1</text><text x="349.00" y="163.60" font-size="10.2" font-weight="700" fill="#111" stroke="#111" stroke-width="0.25" textLength="54.0" lengthAdjust="spacingAndGlyphs">10.10.100.2</text><text x="750.30" y="70.90" font-size="10.2" font-weight="700" fill="#111" stroke="#111" stroke-width="0.25" textLength="53.3" lengthAdjust="spacingAndGlyphs">10.10.110.1</text><text x="745.20" y="162.00" font-size="10.2" font-weight="700" fill="#111" stroke="#111" stroke-width="0.25" textLength="54.1" lengthAdjust="spacingAndGlyphs">10.10.110.2</text><text x="478.00" y="55.10" font-size="10.2" font-weight="700" fill="#111" stroke="#111" stroke-width="0.25" textLength="54.0" lengthAdjust="spacingAndGlyphs">10.10.110.3</text><text x="617.00" y="53.10" font-size="10.2" font-weight="700" fill="#111" stroke="#111" stroke-width="0.25" textLength="53.4" lengthAdjust="spacingAndGlyphs">10.10.100.3</text><text x="530.50" y="214.60" font-size="10.2" font-weight="700" fill="#a3203a" stroke="#a3203a" stroke-width="0.25" textLength="81.2" lengthAdjust="spacingAndGlyphs">channel-group 1</text><rect x="420.75" y="73.25" width="25.20" height="11.50" rx="5.5" fill="#eef7fb" stroke="#283c4c" stroke-width="1.6"/><text x="433.35" y="81.90" text-anchor="middle" font-size="8.2" font-weight="700" fill="#0c0c0c" stroke="#0c0c0c" stroke-width="0.3" textLength="19.7" lengthAdjust="spacingAndGlyphs">port2</text><rect x="481.55" y="60.55" width="25.20" height="12.70" rx="5.5" fill="#eef7fb" stroke="#283c4c" stroke-width="1.6"/><text x="494.15" y="69.80" text-anchor="middle" font-size="8.2" font-weight="700" fill="#0c0c0c" stroke="#0c0c0c" stroke-width="0.3" textLength="19.7" lengthAdjust="spacingAndGlyphs">port3</text><rect x="696.15" y="73.25" width="24.10" height="11.50" rx="5.5" fill="#eef7fb" stroke="#283c4c" stroke-width="1.6"/><text x="708.20" y="81.90" text-anchor="middle" font-size="8.2" font-weight="700" fill="#0c0c0c" stroke="#0c0c0c" stroke-width="0.3" textLength="18.6" lengthAdjust="spacingAndGlyphs">port2</text><rect x="635.75" y="61.05" width="24.50" height="12.00" rx="5.5" fill="#eef7fb" stroke="#283c4c" stroke-width="1.6"/><text x="648.00" y="69.95" text-anchor="middle" font-size="8.2" font-weight="700" fill="#0c0c0c" stroke="#0c0c0c" stroke-width="0.3" textLength="19.0" lengthAdjust="spacingAndGlyphs">port3</text><rect x="420.05" y="135.75" width="25.10" height="13.10" rx="5.5" fill="#eef7fb" stroke="#283c4c" stroke-width="1.6"/><text x="432.60" y="145.20" text-anchor="middle" font-size="8.2" font-weight="700" fill="#0c0c0c" stroke="#0c0c0c" stroke-width="0.3" textLength="19.6" lengthAdjust="spacingAndGlyphs">Gi0/0</text><rect x="695.25" y="136.75" width="24.30" height="12.10" rx="5.5" fill="#eef7fb" stroke="#283c4c" stroke-width="1.6"/><text x="707.40" y="145.70" text-anchor="middle" font-size="8.2" font-weight="700" fill="#0c0c0c" stroke="#0c0c0c" stroke-width="0.3" textLength="18.8" lengthAdjust="spacingAndGlyphs">Gi0/0</text><rect x="476.55" y="149.25" width="24.40" height="12.50" rx="5.5" fill="#eef7fb" stroke="#283c4c" stroke-width="1.6"/><text x="488.75" y="158.40" text-anchor="middle" font-size="8.2" font-weight="700" fill="#0c0c0c" stroke="#0c0c0c" stroke-width="0.3" textLength="18.9" lengthAdjust="spacingAndGlyphs">Gi0/1</text><rect x="639.25" y="149.25" width="24.00" height="12.30" rx="5.5" fill="#eef7fb" stroke="#283c4c" stroke-width="1.6"/><text x="651.25" y="158.30" text-anchor="middle" font-size="8.2" font-weight="700" fill="#0c0c0c" stroke="#0c0c0c" stroke-width="0.3" textLength="18.5" lengthAdjust="spacingAndGlyphs">Gi0/1</text><rect x="476.75" y="187.25" width="24.60" height="12.50" rx="5.5" fill="#eef7fb" stroke="#283c4c" stroke-width="1.6"/><text x="489.05" y="196.40" text-anchor="middle" font-size="8.2" font-weight="700" fill="#0c0c0c" stroke="#0c0c0c" stroke-width="0.3" textLength="19.1" lengthAdjust="spacingAndGlyphs">Gi0/2</text><rect x="476.75" y="192.35" width="24.60" height="12.40" rx="5.5" fill="#eef7fb" stroke="#283c4c" stroke-width="1.6"/><text x="489.05" y="201.45" text-anchor="middle" font-size="8.2" font-weight="700" fill="#0c0c0c" stroke="#0c0c0c" stroke-width="0.3" textLength="19.1" lengthAdjust="spacingAndGlyphs">Gi0/3</text><rect x="638.25" y="187.25" width="24.30" height="12.50" rx="5.5" fill="#eef7fb" stroke="#283c4c" stroke-width="1.6"/><text x="650.40" y="196.40" text-anchor="middle" font-size="8.2" font-weight="700" fill="#0c0c0c" stroke="#0c0c0c" stroke-width="0.3" textLength="18.8" lengthAdjust="spacingAndGlyphs">Gi0/2</text><rect x="638.25" y="192.35" width="24.30" height="12.40" rx="5.5" fill="#eef7fb" stroke="#283c4c" stroke-width="1.6"/><text x="650.40" y="201.45" text-anchor="middle" font-size="8.2" font-weight="700" fill="#0c0c0c" stroke="#0c0c0c" stroke-width="0.3" textLength="18.8" lengthAdjust="spacingAndGlyphs">Gi0/3</text><rect x="421.35" y="218.75" width="23.50" height="12.50" rx="5.5" fill="#eef7fb" stroke="#283c4c" stroke-width="1.6"/><text x="433.10" y="227.90" text-anchor="middle" font-size="8.2" font-weight="700" fill="#0c0c0c" stroke="#0c0c0c" stroke-width="0.3" textLength="18.0" lengthAdjust="spacingAndGlyphs">Gi1/0</text><rect x="695.15" y="218.75" width="24.70" height="12.50" rx="5.5" fill="#eef7fb" stroke="#283c4c" stroke-width="1.6"/><text x="707.50" y="227.90" text-anchor="middle" font-size="8.2" font-weight="700" fill="#0c0c0c" stroke="#0c0c0c" stroke-width="0.3" textLength="19.2" lengthAdjust="spacingAndGlyphs">Gi1/0</text><rect x="421.55" y="279.35" width="23.50" height="11.90" rx="5.5" fill="#eef7fb" stroke="#283c4c" stroke-width="1.6"/><text x="433.30" y="288.20" text-anchor="middle" font-size="8.2" font-weight="700" fill="#0c0c0c" stroke="#0c0c0c" stroke-width="0.3" textLength="18.0" lengthAdjust="spacingAndGlyphs">Gi0/0</text><rect x="696.05" y="279.35" width="24.00" height="11.90" rx="5.5" fill="#eef7fb" stroke="#283c4c" stroke-width="1.6"/><text x="708.05" y="288.20" text-anchor="middle" font-size="8.2" font-weight="700" fill="#0c0c0c" stroke="#0c0c0c" stroke-width="0.3" textLength="18.5" lengthAdjust="spacingAndGlyphs">Gi0/0</text><rect x="501.55" y="349.35" width="22.70" height="11.90" rx="5.5" fill="#eef7fb" stroke="#283c4c" stroke-width="1.6"/><text x="512.90" y="358.20" text-anchor="middle" font-size="8.2" font-weight="700" fill="#0c0c0c" stroke="#0c0c0c" stroke-width="0.3" textLength="17.2" lengthAdjust="spacingAndGlyphs">Gi0/3</text><rect x="619.05" y="349.75" width="22.70" height="11.90" rx="5.5" fill="#eef7fb" stroke="#283c4c" stroke-width="1.6"/><text x="630.40" y="358.60" text-anchor="middle" font-size="8.2" font-weight="700" fill="#0c0c0c" stroke="#0c0c0c" stroke-width="0.3" textLength="17.2" lengthAdjust="spacingAndGlyphs">Gi0/2</text><rect x="394.05" y="368.95" width="24.20" height="12.10" rx="5.5" fill="#eef7fb" stroke="#283c4c" stroke-width="1.6"/><text x="406.15" y="377.90" text-anchor="middle" font-size="8.2" font-weight="700" fill="#0c0c0c" stroke="#0c0c0c" stroke-width="0.3" textLength="18.7" lengthAdjust="spacingAndGlyphs">Gi0/1</text><rect x="448.25" y="368.95" width="23.50" height="12.10" rx="5.5" fill="#eef7fb" stroke="#283c4c" stroke-width="1.6"/><text x="460.00" y="377.90" text-anchor="middle" font-size="8.2" font-weight="700" fill="#0c0c0c" stroke="#0c0c0c" stroke-width="0.3" textLength="18.0" lengthAdjust="spacingAndGlyphs">Gi0/2</text><rect x="670.75" y="368.95" width="24.30" height="12.10" rx="5.5" fill="#eef7fb" stroke="#283c4c" stroke-width="1.6"/><text x="682.90" y="377.90" text-anchor="middle" font-size="8.2" font-weight="700" fill="#0c0c0c" stroke="#0c0c0c" stroke-width="0.3" textLength="18.8" lengthAdjust="spacingAndGlyphs">Gi0/1</text><rect x="725.75" y="368.95" width="23.50" height="12.10" rx="5.5" fill="#eef7fb" stroke="#283c4c" stroke-width="1.6"/><text x="737.50" y="377.90" text-anchor="middle" font-size="8.2" font-weight="700" fill="#0c0c0c" stroke="#0c0c0c" stroke-width="0.3" textLength="18.0" lengthAdjust="spacingAndGlyphs">Gi0/3</text><rect x="299.95" y="463.55" width="24.30" height="12.00" rx="5.5" fill="#eef7fb" stroke="#283c4c" stroke-width="1.6"/><text x="312.10" y="472.45" text-anchor="middle" font-size="8.2" font-weight="700" fill="#0c0c0c" stroke="#0c0c0c" stroke-width="0.3" textLength="18.8" lengthAdjust="spacingAndGlyphs">Gi0/0</text><rect x="358.25" y="482.95" width="24.30" height="12.30" rx="5.5" fill="#eef7fb" stroke="#283c4c" stroke-width="1.6"/><text x="370.40" y="492.00" text-anchor="middle" font-size="8.2" font-weight="700" fill="#0c0c0c" stroke="#0c0c0c" stroke-width="0.3" textLength="18.8" lengthAdjust="spacingAndGlyphs">Gi0/1</text><rect x="534.95" y="463.55" width="24.30" height="12.00" rx="5.5" fill="#eef7fb" stroke="#283c4c" stroke-width="1.6"/><text x="547.10" y="472.45" text-anchor="middle" font-size="8.2" font-weight="700" fill="#0c0c0c" stroke="#0c0c0c" stroke-width="0.3" textLength="18.8" lengthAdjust="spacingAndGlyphs">Gi0/0</text><rect x="587.25" y="463.55" width="24.30" height="12.00" rx="5.5" fill="#eef7fb" stroke="#283c4c" stroke-width="1.6"/><text x="599.40" y="472.45" text-anchor="middle" font-size="8.2" font-weight="700" fill="#0c0c0c" stroke="#0c0c0c" stroke-width="0.3" textLength="18.8" lengthAdjust="spacingAndGlyphs">Gi0/1</text><rect x="827.95" y="463.55" width="23.40" height="12.00" rx="5.5" fill="#eef7fb" stroke="#283c4c" stroke-width="1.6"/><text x="839.65" y="472.45" text-anchor="middle" font-size="8.2" font-weight="700" fill="#0c0c0c" stroke="#0c0c0c" stroke-width="0.3" textLength="17.9" lengthAdjust="spacingAndGlyphs">Gi0/1</text><rect x="770.25" y="484.15" width="24.20" height="11.70" rx="5.5" fill="#eef7fb" stroke="#283c4c" stroke-width="1.6"/><text x="782.35" y="492.90" text-anchor="middle" font-size="8.2" font-weight="700" fill="#0c0c0c" stroke="#0c0c0c" stroke-width="0.3" textLength="18.7" lengthAdjust="spacingAndGlyphs">Gi0/0</text><rect x="271.55" y="551.35" width="22.70" height="12.10" rx="5.5" fill="#eef7fb" stroke="#283c4c" stroke-width="1.6"/><text x="282.90" y="560.30" text-anchor="middle" font-size="8.2" font-weight="700" fill="#0c0c0c" stroke="#0c0c0c" stroke-width="0.3" textLength="17.2" lengthAdjust="spacingAndGlyphs">Gi0/2</text><rect x="294.95" y="551.35" width="22.60" height="12.10" rx="5.5" fill="#eef7fb" stroke="#283c4c" stroke-width="1.6"/><text x="306.25" y="560.30" text-anchor="middle" font-size="8.2" font-weight="700" fill="#0c0c0c" stroke="#0c0c0c" stroke-width="0.3" textLength="17.1" lengthAdjust="spacingAndGlyphs">Gi0/3</text><rect x="554.75" y="551.35" width="22.90" height="11.90" rx="5.5" fill="#eef7fb" stroke="#283c4c" stroke-width="1.6"/><text x="566.20" y="560.20" text-anchor="middle" font-size="8.2" font-weight="700" fill="#0c0c0c" stroke="#0c0c0c" stroke-width="0.3" textLength="17.4" lengthAdjust="spacingAndGlyphs">Gi0/2</text><rect x="578.35" y="551.35" width="23.70" height="11.90" rx="5.5" fill="#eef7fb" stroke="#283c4c" stroke-width="1.6"/><text x="590.20" y="560.20" text-anchor="middle" font-size="8.2" font-weight="700" fill="#0c0c0c" stroke="#0c0c0c" stroke-width="0.3" textLength="18.2" lengthAdjust="spacingAndGlyphs">Gi0/3</text><rect x="833.95" y="548.55" width="23.40" height="12.00" rx="5.5" fill="#eef7fb" stroke="#283c4c" stroke-width="1.6"/><text x="845.65" y="557.45" text-anchor="middle" font-size="8.2" font-weight="700" fill="#0c0c0c" stroke="#0c0c0c" stroke-width="0.3" textLength="17.9" lengthAdjust="spacingAndGlyphs">Gi0/2</text><rect x="865.85" y="551.35" width="23.50" height="11.90" rx="5.5" fill="#eef7fb" stroke="#283c4c" stroke-width="1.6"/><text x="877.60" y="560.20" text-anchor="middle" font-size="8.2" font-weight="700" fill="#0c0c0c" stroke="#0c0c0c" stroke-width="0.3" textLength="18.0" lengthAdjust="spacingAndGlyphs">Gi0/3</text><rect x="233.45" y="602.05" width="20.50" height="12.50" rx="5.5" fill="#eef7fb" stroke="#283c4c" stroke-width="1.6"/><text x="243.70" y="611.20" text-anchor="middle" font-size="8.2" font-weight="700" fill="#0c0c0c" stroke="#0c0c0c" stroke-width="0.3" textLength="15.0" lengthAdjust="spacingAndGlyphs">eth0</text><rect x="329.25" y="602.25" width="19.20" height="12.00" rx="5.5" fill="#eef7fb" stroke="#283c4c" stroke-width="1.6"/><text x="338.85" y="611.15" text-anchor="middle" font-size="8.2" font-weight="700" fill="#0c0c0c" stroke="#0c0c0c" stroke-width="0.3" textLength="13.7" lengthAdjust="spacingAndGlyphs">eth0</text><rect x="528.25" y="602.55" width="21.00" height="11.70" rx="5.5" fill="#eef7fb" stroke="#283c4c" stroke-width="1.6"/><text x="538.75" y="611.30" text-anchor="middle" font-size="8.2" font-weight="700" fill="#0c0c0c" stroke="#0c0c0c" stroke-width="0.3" textLength="15.5" lengthAdjust="spacingAndGlyphs">eth0</text><rect x="619.75" y="602.55" width="20.80" height="11.70" rx="5.5" fill="#eef7fb" stroke="#283c4c" stroke-width="1.6"/><text x="630.15" y="611.30" text-anchor="middle" font-size="8.2" font-weight="700" fill="#0c0c0c" stroke="#0c0c0c" stroke-width="0.3" textLength="15.3" lengthAdjust="spacingAndGlyphs">eth0</text><rect x="798.75" y="584.55" width="20.70" height="11.50" rx="5.5" fill="#eef7fb" stroke="#283c4c" stroke-width="1.6"/><text x="809.10" y="593.20" text-anchor="middle" font-size="8.2" font-weight="700" fill="#0c0c0c" stroke="#0c0c0c" stroke-width="0.3" textLength="15.2" lengthAdjust="spacingAndGlyphs">eth0</text><rect x="908.45" y="603.35" width="21.00" height="11.20" rx="5.5" fill="#eef7fb" stroke="#283c4c" stroke-width="1.6"/><text x="918.95" y="611.85" text-anchor="middle" font-size="8.2" font-weight="700" fill="#0c0c0c" stroke="#0c0c0c" stroke-width="0.3" textLength="15.5" lengthAdjust="spacingAndGlyphs">eth0</text></g>
 <g font-weight="700" font-size="14" fill="#0a0a0a" stroke="#0a0a0a" stroke-width="0.35">
  <text x="92" y="161" textLength="177" lengthAdjust="spacingAndGlyphs">VLAN 10 BT 10.10.10.0/24</text>
  <text x="92" y="182" textLength="179" lengthAdjust="spacingAndGlyphs">VLAN 10 HR 10.10.20.0/24</text>
  <text x="92" y="203" textLength="179" lengthAdjust="spacingAndGlyphs">VLAN 10 RD 10.10.30.0/24</text>
  <text x="92" y="224" textLength="167" lengthAdjust="spacingAndGlyphs">VLAN 100 UPLINK FW01</text>
  <text x="92" y="245" textLength="168" lengthAdjust="spacingAndGlyphs">VLAN 110 UPLINK FW02</text>
 </g>
 <!-- notifications -->
 <path d="M888 503.3 L888 522.8 L892.5 518.6 L896.2 527.8 L899.8 526.3 L896.3 517.8 L902.5 517.5 Z" fill="#000" stroke="#fff" stroke-width="1.5" stroke-linejoin="round"/>
 <text x="1060.6" y="66.2" font-size="11.6" font-weight="700" fill="#fff" textLength="70.5" lengthAdjust="spacingAndGlyphs">Notifications</text>
 <path d="M1217.6 56.6 L1225 63.8 M1225 56.6 L1217.6 63.8" stroke="#d22a30" stroke-width="1.8"/>
 <!-- toolbar -->
 <text x="311.25" y="37.9" font-size="11.6" fill="#fbfbfe" stroke="#fbfbfe" stroke-width="0.25" textLength="64.85" lengthAdjust="spacingAndGlyphs">192.168.1.50</text>
 <text x="376.1" y="37.9" font-size="11.8" fill="#a3a3a8" stroke="#a3a3a8" stroke-width="0.15" textLength="389.8" lengthAdjust="spacingAndGlyphs">/legacy/3 Layer Network Topology Active Active Redundancy.unl/topology</text>
</svg>
</body></html>
